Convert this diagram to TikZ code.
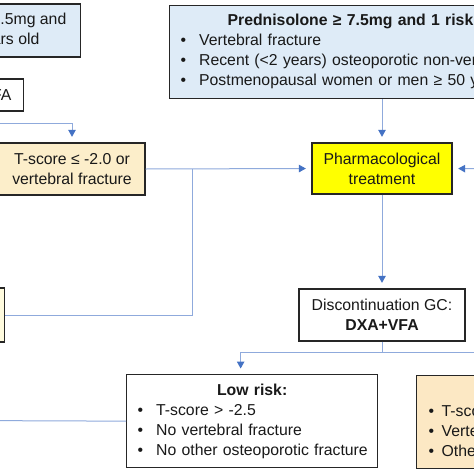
\documentclass[tikz,border=0pt]{standalone}
\usepackage{fontspec}
\setmainfont{Liberation Sans}
\definecolor{boxblue}{RGB}{222,235,247}
\definecolor{boxbeige}{RGB}{252,238,202}
\definecolor{boxpeach}{RGB}{252,232,196}
\definecolor{boxpale}{RGB}{255,251,222}
\definecolor{boxyellow}{RGB}{255,255,0}
\definecolor{lineblue}{RGB}{143,170,220}
\definecolor{tipblue}{RGB}{68,114,196}
\definecolor{edgegray}{RGB}{38,38,38}
\usetikzlibrary{arrows.meta, positioning}
\newcommand{\bul}[2][18.5pt]{\mbox{\makebox[#1][l]{\textbullet}#2}}

\begin{document}
\begin{tikzpicture}[
  x=1pt, y=-1pt,
  font=\fontsize{15.8}{20}\selectfont,
  line/.style={draw=lineblue, line width=1pt},
  arrow/.style={line, -{Triangle[length=7pt, width=7.5pt, color=tipblue]}, shorten >=5.5pt},
  bx/.style={draw=edgegray, line width=1.3pt, align=center, text=black!90},
  bluebox/.style={bx, fill=boxblue},
  beigebox/.style={bx, fill=boxbeige},
  whitebox/.style={bx, fill=white},
  listbox/.style={bx, align=left, minimum height=93pt},
]
\path[use as bounding box, fill=white] (0,0) rectangle (474,474);
\clip (0,0) rectangle (474,474);

\node[bluebox, anchor=east, inner xsep=14pt, minimum height=53pt] (young) at (81,30.5)
  {Prednisolone ≥ 7.5mg and\\ age < 50 years old};
\node[whitebox, anchor=east, inner xsep=12pt, minimum height=32pt] (dxa) at (24,95) {DXA+VFA};
\node[beigebox, minimum width=146pt, minimum height=52pt] (tscore) at (72,169)
  {T-score ≤ -2.0 or\\ vertebral fracture};
\node[bx, fill=boxpale, anchor=east, minimum width=100pt, minimum height=54pt] (other) at (5,315) {};

\node[listbox, fill=boxblue, anchor=north west, inner xsep=11pt, text width=394pt] (risk) at (169,4.7)
  {\makebox[\linewidth][c]{\textbf{Prednisolone ≥ 7.5mg and 1 risk factor:}}\\
   \bul{Vertebral fracture}\\
   \bul{Recent (<2 years) osteoporotic non-vertebral fracture}\\
   \bul{Postmenopausal women or men ≥ 50 years}};
\node[bx, fill=boxyellow, minimum width=140pt, minimum height=51pt] (pharm) at (382,168.5)
  {Pharmacological\\ treatment};
\node[whitebox, minimum width=166pt, minimum height=52pt] (disc) at (382,315)
  {Discontinuation GC:\\ \textbf{DXA+VFA}};

\node[listbox, fill=white, anchor=north west, inner xsep=11pt, text width=229pt] (low) at (126,374)
  {\makebox[\linewidth][c]{\textbf{Low risk:}}\\
   \bul{T-score > -2.5}\\
   \bul{No vertebral fracture}\\
   \bul{No other osteoporotic fracture}};
\node[listbox, fill=boxpeach, anchor=north west, inner xsep=12pt, text width=227pt] (high) at (416,375)
  {\makebox[\linewidth][c]{\textbf{High risk:}}\\
   \bul[13pt]{T-score ≤ -2.5}\\
   \bul[13pt]{Vertebral fracture}\\
   \bul[13pt]{Other osteoporotic fracture}};

\coordinate (join) at (192,169);
\coordinate (fromright) at (500,169);
\coordinate (split) at (382,352);
\coordinate (lowout) at (-40,420.5);

\draw[arrow] (dxa.south) -- ++(0,12) -| (tscore.north);
\draw[arrow] (tscore.east) -- (pharm.west);
\draw[line] (other.east) -| (join);
\draw[arrow] (pharm.north |- risk.south) -- (pharm.north);
\draw[arrow] (fromright) -- (pharm.east);
\draw[arrow] (pharm.south) -- (disc.north);
\draw[line] (disc.south) -- (split);
\draw[arrow] (split) -| ([xshift=-11.5pt]low.north);
\draw[arrow] (split) -| (high.north);
\draw[arrow] (low.west) -- (lowout);
\end{tikzpicture}
\end{document}
